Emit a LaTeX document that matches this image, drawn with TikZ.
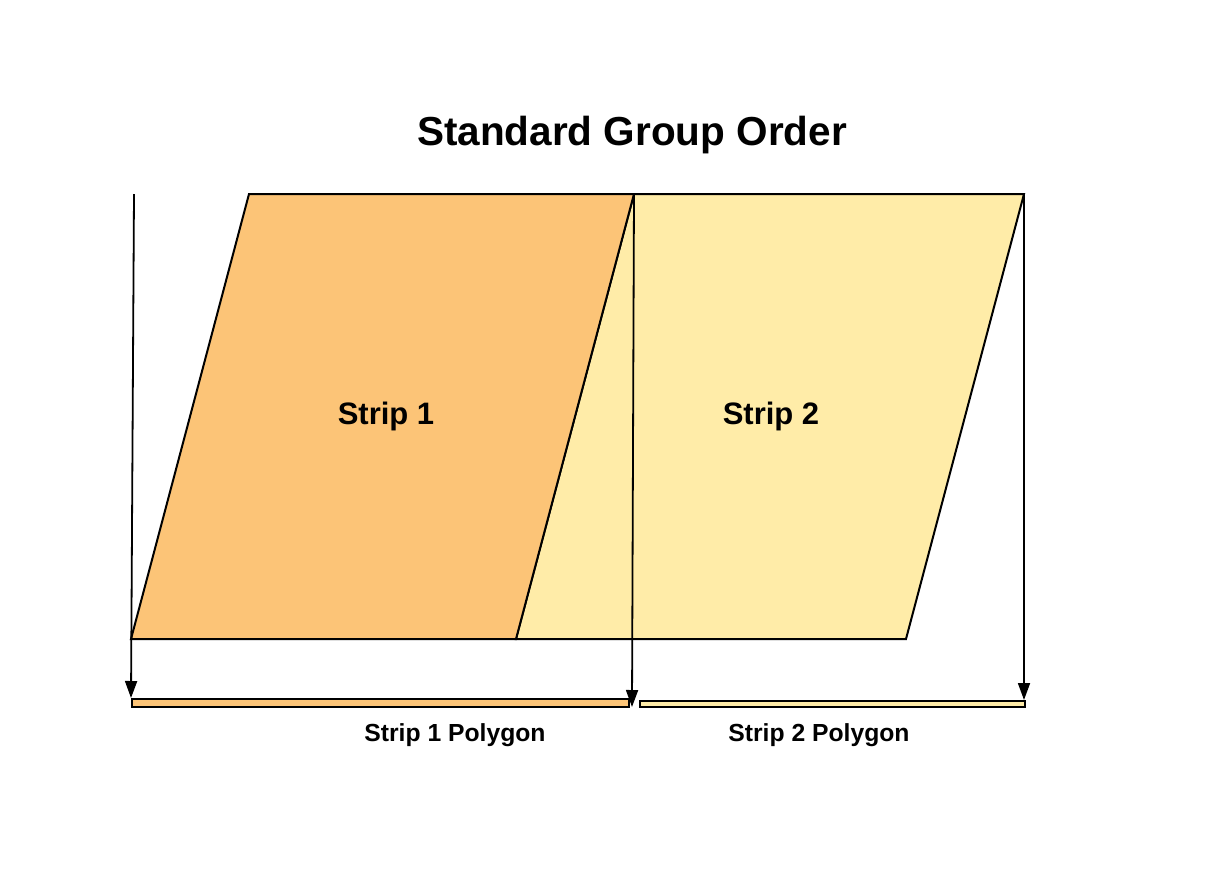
\documentclass[tikz,border=0pt]{standalone}
\usepackage{fontspec}
\setmainfont{Liberation Sans}
\usetikzlibrary{arrows.meta}
\definecolor{sone}{HTML}{FCC477}
\definecolor{stwo}{HTML}{FFECA8}
\tikzset{
  edge/.style={draw=black, line width=2pt, line join=miter},
  arr/.style={draw=black, line width=1.8pt, -{Triangle[length=17pt,width=12pt]}},
  barbox/.style={draw=black, line width=1.8pt, inner sep=0pt, anchor=north west},
  lbl/.style={text=black, inner sep=0pt}
}
\begin{document}
\begin{tikzpicture}[x=1pt,y=-1pt]
\useasboundingbox[fill=white] (0,0) rectangle (1211,892);
% coordinates
\coordinate (a1) at (249,194);
\coordinate (mt) at (634,194);
\coordinate (r1) at (1024,194);
\coordinate (bl) at (131,639);
\coordinate (mb) at (516,639);
\coordinate (rb) at (906,639);
\coordinate (l0) at (134,194);
% strip 2
\path[edge, fill=stwo] (mt) -- (r1) -- (rb) -- (mb) -- cycle;
% strip 1
\path[edge, fill=sone] (a1) -- (mt) -- (mb) -- (bl) -- cycle;
% bars
\node[barbox, fill=sone, minimum width=497pt, minimum height=8pt] (bar1) at (131,698) {};
\node[barbox, fill=stwo, minimum width=385pt, minimum height=6pt] (bar2) at (639,700) {};
% arrows
\coordinate (t1) at (131,698);
\coordinate (t2) at (632,707);
\coordinate (t3) at (1024,700);
\draw[arr] (l0) -- (t1);
\draw[arr] (mt) -- (t2);
\draw[arr] (r1) -- (t3);
% labels
\node[lbl, font=\fontsize{40.5}{46}\selectfont\bfseries] (title) at (632,135) {Standard Group Order};
\node[lbl, font=\fontsize{31}{36}\selectfont\bfseries] (s1) at (386,416) {Strip 1};
\node[lbl, font=\fontsize{31}{36}\selectfont\bfseries] (s2) at (771,416) {Strip 2};
\node[lbl, font=\fontsize{24.7}{28}\selectfont\bfseries] (p1) at (455,735) {Strip 1 Polygon};
\node[lbl, font=\fontsize{24.7}{28}\selectfont\bfseries] (p2) at (819,735) {Strip 2 Polygon};
\end{tikzpicture}
\end{document}
